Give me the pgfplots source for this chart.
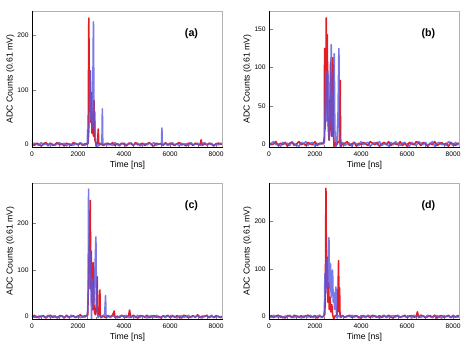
\documentclass[border=0pt]{standalone}
\usepackage{fontspec}
\setmainfont{Liberation Sans}
\usepackage{pgfplots}
\pgfplotsset{compat=1.18}
\definecolor{sigred}{RGB}{228,28,36}
\definecolor{sigblue}{RGB}{88,88,225}
\pgfplotsset{
  panel/.style={
    width=143.25pt, height=102pt, scale only axis,
    xmin=0, xmax=8300,
    xtick={0,2000,4000,6000,8000},
    minor x tick num=4,
    xtick pos=bottom, ytick pos=left,
    tick align=inside,
    major tick length=3pt, minor tick length=1.5pt,
    axis line style={draw=none},
    scaled x ticks=false,
    /pgf/number format/assume math mode=true,
    /pgf/number format/1000 sep={},
    tick label style={font=\fontsize{5}{6}\selectfont},
    yticklabel style={xshift=1pt},
    xlabel={Time [ns]},
    ylabel={ADC Counts (0.61 mV)},
    label style={font=\fontsize{6.5}{7}\selectfont},
    xlabel style={yshift=3pt},
    ylabel style={yshift=-4.5pt},
    clip=true,
  },
  redline/.style={sigred, line width=1.2pt, line join=round},
  blueline/.style={sigblue, line width=1.2pt, opacity=0.8, line join=round},
}
\newcommand{\frameit}[1]{%
  \draw[gray!60, line width=0.8pt] (rel axis cs:0,1) -- (rel axis cs:1,1) -- (rel axis cs:1,0);
  \draw[black, line width=0.6pt] (rel axis cs:0,1) -- (rel axis cs:0,0) -- (rel axis cs:1,0);
  \node[font=\bfseries\fontsize{8}{9}\selectfont] at (rel axis cs:0.835,0.83) {(#1)};
}
\begin{document}
\begin{tikzpicture}
\path[use as bounding box] (0,0) rectangle (355.5pt,-260.25pt);
% ---------------- (a)
\begin{axis}[panel, at={(24pt,-8.25pt)}, anchor=north west,
  ymin=-5, ymax=245, ytick={0,100,200}]
\addplot[redline] coordinates {
(0,1)(100,-2)(200,2)(300,0)(400,-3)(500,1)(600,3)(700,-1)(800,2)(900,-2)(1000,0)(1100,3)(1200,-1)(1300,1)(1400,-3)(1500,2)(1600,0)(1700,-2)(1800,3)(1900,1)(2000,-1)(2100,2)(2200,-2)(2300,1)
(2400,0)(2440,2)(2470,232)(2490,80)(2510,60)(2535,135)(2560,40)(2585,95)(2610,20)(2640,50)(2670,15)(2695,80)(2720,10)(2760,4)(2800,-2)(2850,3)(2880,28)(2900,2)(2950,-1)(3000,1)(3100,-2)
(3200,0)(3300,2)(3400,-1)(3500,3)(3600,-2)(3700,1)(3800,-1)(3900,2)(4000,0)(4100,-3)(4200,2)(4300,1)(4400,-2)(4500,3)(4600,-1)(4700,0)(4800,2)(4900,-2)(5000,1)(5100,3)(5200,-1)(5300,-3)(5400,2)(5500,0)(5600,1)(5700,-2)(5800,3)(5900,-1)(6000,2)(6100,0)(6200,-2)(6300,1)(6400,3)(6500,-1)(6600,0)(6700,-3)(6800,2)(6900,1)(7000,-2)(7100,2)(7200,0)(7300,-1)(7350,8)(7400,-2)(7500,1)(7600,-1)(7700,2)(7800,0)(7900,-3)(8000,1)(8100,2)(8200,0)(8300,1)
};
\addplot[blueline] coordinates {
(0,-1)(100,2)(200,0)(300,-2)(400,3)(500,-1)(600,1)(700,-3)(800,2)(900,0)(1000,-2)(1100,1)(1200,3)(1300,-1)(1400,2)(1500,-3)(1600,1)(1700,0)(1800,-2)(1900,2)(2000,-1)(2100,3)(2200,0)(2300,-2)
(2380,1)(2405,4)(2420,27)(2440,3)(2470,25)(2500,60)(2530,135)(2555,45)(2590,90)(2630,30)(2670,225)(2695,40)(2725,60)(2755,12)(2790,-6)(2850,-4)(2920,-1)(3000,2)(3040,3)(3058,65)(3075,2)(3120,-1)
(3200,2)(3300,-1)(3400,1)(3500,-2)(3600,3)(3700,0)(3800,-3)(3900,1)(4000,2)(4100,-1)(4200,0)(4300,3)(4400,-2)(4500,1)(4600,2)(4700,-3)(4800,0)(4900,1)(5000,-1)(5100,2)(5200,0)(5300,3)(5400,-2)(5500,1)(5600,0)(5630,4)(5645,30)(5660,3)(5700,-1)(5800,2)(5900,-2)(6000,0)(6100,3)(6200,-1)(6300,1)(6400,-3)(6500,2)(6600,0)(6700,1)(6800,-2)(6900,3)(7000,-1)(7100,0)(7200,2)(7300,-2)(7400,1)(7500,3)(7600,-1)(7700,0)(7800,2)(7900,-2)(8000,1)(8100,-1)(8200,2)(8300,0)
};
\frameit{a}
\end{axis}
% ---------------- (b)
\begin{axis}[panel, at={(201.75pt,-8.25pt)}, anchor=north west,
  ymin=-4, ymax=174, ytick={0,50,100,150}]
\addplot[redline] coordinates {
(0,2)(100,-1)(200,0)(300,3)(400,-2)(500,1)(600,-1)(700,2)(800,-3)(900,1)(1000,2)(1100,-2)(1200,0)(1300,3)(1400,-1)(1500,1)(1600,-2)(1700,2)(1800,0)(1900,-1)(2000,3)(2100,-2)(2200,1)(2300,0)
(2380,2)(2405,10)(2416,125)(2440,20)(2470,60)(2488,165)(2510,50)(2532,143)(2555,40)(2580,20)(2610,5)(2640,30)(2676,107)(2700,20)(2730,10)(2760,40)(2777,113)(2800,15)(2830,-3)(2870,2)(2920,-2)(2960,0)(3000,3)(3060,2)(3080,40)(3096,83)(3110,10)(3130,-4)(3160,1)
(3200,-1)(3300,1)(3400,3)(3500,-2)(3600,0)(3700,2)(3800,-3)(3900,1)(4000,-1)(4100,2)(4200,0)(4300,-2)(4400,3)(4500,1)(4600,-1)(4700,2)(4800,-3)(4900,0)(5000,2)(5100,-1)(5200,3)(5300,-2)(5400,1)(5500,0)(5600,-1)(5700,3)(5800,-2)(5900,1)(6000,-3)(6100,2)(6200,0)(6300,-1)(6400,3)(6500,1)(6600,-2)(6700,2)(6800,0)(6900,-3)(7000,1)(7100,-1)(7200,3)(7300,-2)(7400,0)(7500,2)(7600,-1)(7700,1)(7800,-3)(7900,2)(8000,0)(8100,-2)(8200,1)(8300,0)
};
\addplot[blueline] coordinates {
(0,-2)(100,1)(200,3)(300,-1)(400,0)(500,-3)(600,2)(700,0)(800,1)(900,-2)(1000,3)(1100,0)(1200,-1)(1300,-3)(1400,2)(1500,0)(1600,3)(1700,-2)(1800,1)(1900,2)(2000,-3)(2100,1)(2200,-1)(2300,2)
(2380,0)(2410,3)(2440,40)(2470,95)(2500,30)(2530,70)(2560,95)(2590,20)(2620,5)(2660,40)(2705,130)(2730,30)(2760,10)(2800,60)(2835,118)(2860,20)(2900,-4)(2950,2)(3000,40)(3038,125)(3060,20)(3090,-3)(3140,1)
(3200,2)(3300,-2)(3400,0)(3500,1)(3600,-3)(3700,2)(3800,0)(3900,-2)(4000,3)(4100,-1)(4200,1)(4300,2)(4400,-3)(4500,0)(4600,2)(4700,-1)(4800,3)(4900,-2)(5000,0)(5100,1)(5200,-3)(5300,2)(5400,-1)(5500,3)(5600,0)(5700,-2)(5800,1)(5900,2)(6000,-1)(6100,-3)(6200,2)(6300,0)(6400,-2)(6500,3)(6600,1)(6700,-1)(6800,2)(6900,-2)(7000,0)(7100,3)(7200,-3)(7300,1)(7400,2)(7500,-1)(7600,0)(7700,-2)(7800,3)(7900,1)(8000,-2)(8100,2)(8200,-1)(8300,1)
};
\frameit{b}
\end{axis}
% ---------------- (c)
\begin{axis}[panel, at={(24pt,-137.25pt)}, anchor=north west,
  ymin=-5, ymax=285, ytick={0,100,200}]
\addplot[redline] coordinates {
(0,-1)(100,3)(200,-2)(300,1)(400,0)(500,2)(600,-3)(700,1)(800,3)(900,-1)(1000,0)(1100,-2)(1200,2)(1300,1)(1400,-3)(1500,3)(1600,-1)(1700,0)(1800,2)(1900,-2)(2000,1)(2100,4)(2200,-1)(2300,2)
(2380,1)(2420,3)(2450,60)(2490,150)(2532,248)(2555,60)(2575,140)(2600,30)(2625,67)(2645,15)(2662,115)(2690,25)(2720,8)(2760,4)(2800,30)(2835,85)(2860,5)(2900,3)(2935,20)(2951,57)(2965,3)(3000,-2)(3100,1)
(3200,-2)(3300,2)(3400,0)(3500,3)(3574,12)(3600,-1)(3700,1)(3800,-2)(3900,3)(4000,0)(4100,-1)(4200,2)(4240,14)(4280,1)(4300,-2)(4400,3)(4500,0)(4600,-3)(4700,2)(4800,1)(4900,-1)(5000,3)(5100,-2)(5200,0)(5300,2)(5400,-1)(5500,1)(5600,-3)(5700,2)(5800,0)(5900,3)(6000,-2)(6100,1)(6200,-1)(6300,2)(6400,0)(6500,-3)(6600,3)(6700,1)(6800,-2)(6900,0)(7000,2)(7100,-1)(7200,4)(7300,-2)(7400,1)(7500,0)(7600,3)(7700,-2)(7800,1)(7900,-1)(8000,2)(8100,0)(8200,-2)(8300,1)
};
\addplot[blueline] coordinates {
(0,2)(100,-1)(200,1)(300,-3)(400,2)(500,0)(600,-1)(700,3)(800,-2)(900,1)(1000,2)(1100,-3)(1200,0)(1300,2)(1400,-1)(1500,1)(1600,-2)(1700,3)(1800,0)(1900,-1)(2000,2)(2100,-2)(2200,1)(2300,-1)
(2380,2)(2420,10)(2440,60)(2459,272)(2480,95)(2500,60)(2520,95)(2545,140)(2570,40)(2590,-8)(2610,80)(2635,20)(2660,50)(2690,30)(2720,70)(2777,170)(2800,40)(2830,15)(2870,-2)(2920,3)(2980,-1)(3060,2)(3160,4)(3197,45)(3215,2)(3260,-1)
(3300,1)(3400,-2)(3500,2)(3600,0)(3700,-3)(3800,1)(3900,2)(4000,-1)(4100,3)(4200,-2)(4300,0)(4400,1)(4500,-2)(4600,3)(4700,-1)(4800,2)(4900,0)(5000,-3)(5100,1)(5200,2)(5300,-1)(5400,3)(5500,-2)(5600,0)(5700,1)(5800,-2)(5900,2)(6000,-1)(6100,3)(6200,0)(6300,-3)(6400,1)(6500,2)(6600,-1)(6700,0)(6800,3)(6900,-2)(7000,1)(7100,-1)(7200,2)(7300,0)(7400,-3)(7500,2)(7600,1)(7700,-1)(7800,3)(7900,-2)(8000,0)(8100,1)(8200,-1)(8300,2)
};
\frameit{c}
\end{axis}
% ---------------- (d)
\begin{axis}[panel, at={(201.75pt,-137.25pt)}, anchor=north west,
  ymin=-5, ymax=279, ytick={0,100,200}]
\addplot[redline] coordinates {
(0,0)(100,2)(200,-2)(300,1)(400,3)(500,-1)(600,0)(700,-3)(800,2)(900,1)(1000,-2)(1100,3)(1200,0)(1300,-1)(1400,2)(1500,-2)(1600,1)(1700,3)(1800,-1)(1900,0)(2000,2)(2100,-3)(2200,1)(2300,-1)
(2380,1)(2420,4)(2450,40)(2474,268)(2500,60)(2532,124)(2560,30)(2590,70)(2620,15)(2650,40)(2690,10)(2730,25)(2770,3)(2820,-5)(2880,2)(2950,3)(2990,30)(3024,117)(3040,10)(3067,60)(3085,5)(3120,-2)(3160,1)
(3200,2)(3300,-1)(3400,0)(3500,3)(3600,-2)(3700,1)(3800,2)(3900,-1)(4000,-3)(4100,2)(4200,0)(4300,1)(4400,-2)(4500,3)(4600,0)(4700,-1)(4800,2)(4900,-2)(5000,1)(5100,0)(5200,3)(5300,-1)(5400,-3)(5500,2)(5600,1)(5700,-1)(5800,0)(5900,3)(6000,-2)(6100,1)(6200,2)(6300,-1)(6400,0)(6450,10)(6500,-2)(6600,3)(6700,1)(6800,-2)(6900,0)(7000,2)(7100,-1)(7200,3)(7300,-3)(7400,1)(7500,2)(7600,-1)(7700,0)(7800,3)(7900,-2)(8000,1)(8100,-1)(8200,2)(8300,0)
};
\addplot[blueline] coordinates {
(0,1)(100,-2)(200,3)(300,0)(400,-1)(500,2)(600,-3)(700,1)(800,0)(900,3)(1000,-1)(1100,-2)(1200,2)(1300,0)(1400,-3)(1500,1)(1600,2)(1700,-1)(1800,3)(1900,-2)(2000,0)(2100,1)(2200,3)(2300,-2)
(2380,2)(2410,15)(2430,90)(2460,60)(2500,120)(2530,50)(2560,100)(2604,165)(2630,60)(2676,110)(2700,40)(2730,70)(2763,97)(2790,30)(2820,50)(2850,15)(2880,40)(2908,62)(2930,10)(2960,-3)(3000,2)(3100,-1)
(3200,1)(3300,-2)(3400,2)(3500,0)(3600,3)(3700,-1)(3800,1)(3900,-3)(4000,2)(4100,0)(4200,-2)(4300,3)(4400,1)(4500,-1)(4600,2)(4700,0)(4800,-3)(4900,1)(5000,3)(5100,-2)(5200,0)(5300,1)(5400,2)(5500,-1)(5600,3)(5700,-2)(5800,1)(5900,0)(6000,-1)(6100,2)(6200,-3)(6300,3)(6400,0)(6500,1)(6600,-2)(6700,2)(6800,-1)(6900,3)(7000,0)(7100,-2)(7200,1)(7300,2)(7400,-1)(7500,-3)(7600,2)(7700,0)(7800,1)(7900,-2)(8000,3)(8100,0)(8200,-1)(8300,1)
};
\frameit{d}
\end{axis}
\end{tikzpicture}
\end{document}
